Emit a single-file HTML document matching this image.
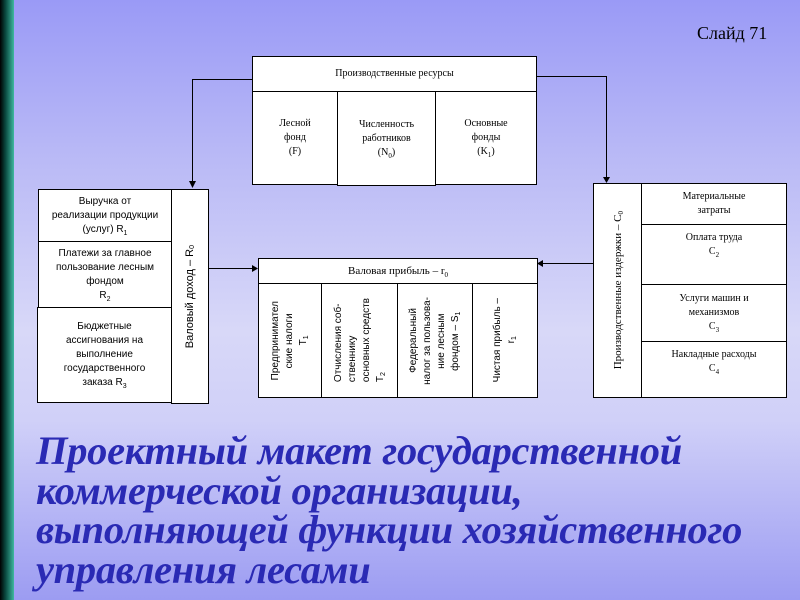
<!DOCTYPE html>
<html><head><meta charset="utf-8"><style>
body{margin:0;width:800px;height:600px;overflow:hidden;position:relative;
background:linear-gradient(180deg,#9a9af6 0%,#b8b8f6 25%,#d8d8f8 55%,#d0d0f8 70%,#9c9cf2 100%);
font-family:"Liberation Sans",sans-serif;}
.stripe{position:absolute;left:0;top:0;width:14px;height:600px;background:linear-gradient(90deg,#000 0%,#0a4a40 40%,#3fb8a0 100%);}
.b{position:absolute;background:#fff;border:1px solid #000;box-sizing:border-box;display:flex;align-items:center;justify-content:center;text-align:center;font-size:10px;line-height:14px;color:#000;}
.s{font-family:"Liberation Serif",serif;}
.v{writing-mode:vertical-rl;transform:rotate(180deg);}
sub{font-size:7px;line-height:0}
.t{position:absolute;left:36px;top:431px;font-family:"Liberation Serif",serif;font-style:italic;font-weight:bold;color:#2a2ab4;font-size:40.5px;line-height:39.5px;letter-spacing:-0.3px;white-space:nowrap}
</style></head><body>
<div class="stripe"></div>
<div style="position:absolute;left:697px;top:23px;font-family:'Liberation Serif',serif;font-size:18px">Слайд 71</div>

<div class="b s" style="left:252px;top:56px;width:285px;height:36px"><span>Производственные ресурсы</span></div>
<div class="b s" style="left:252px;top:91px;width:86px;height:94px"><span>Лесной<br>фонд<br>(F)</span></div>
<div class="b s" style="left:337px;top:91px;width:99px;height:95px"><span>Численность<br>работников<br>(N<sub>0</sub>)</span></div>
<div class="b s" style="left:435px;top:91px;width:102px;height:94px"><span>Основные<br>фонды<br>(K<sub>1</sub>)</span></div>

<div class="b" style="left:38px;top:189px;width:134px;height:53px"><span>Выручка от<br>реализации продукции<br>(услуг) R<sub>1</sub></span></div>
<div class="b" style="left:38px;top:241px;width:134px;height:67px"><span>Платежи за главное<br>пользование лесным<br>фондом<br>R<sub>2</sub></span></div>
<div class="b" style="left:37px;top:307px;width:135px;height:96px"><span>Бюджетные<br>ассигнования на<br>выполнение<br>государственного<br>заказа R<sub>3</sub></span></div>
<div class="b" style="left:171px;top:189px;width:38px;height:215px"><span class="v" style="font-size:11px">Валовый доход – R<sub>0</sub></span></div>

<div class="b s" style="left:258px;top:258px;width:280px;height:26px;font-size:11px"><span>Валовая прибыль – r<sub>0</sub></span></div>
<div class="b" style="left:258px;top:283px;width:64px;height:115px"><span class="v">Предпринимател<br>ские налоги<br>T<sub>1</sub></span></div>
<div class="b" style="left:321px;top:283px;width:77px;height:115px"><span class="v" style="text-align:left">Отчисления соб-<br>ственнику<br>основных средств<br><span style="padding-left:80px">T<sub>2</sub></span></span></div>
<div class="b" style="left:397px;top:283px;width:76px;height:115px"><span class="v">Федеральный<br>налог за пользова-<br>ние лесным<br>фондом – S<sub>1</sub></span></div>
<div class="b" style="left:472px;top:283px;width:66px;height:115px"><span class="v">Чистая прибыль –<br>r<sub>1</sub></span></div>

<div class="b s" style="left:593px;top:183px;width:49px;height:215px"><span class="v" style="font-size:11px">Производственные издержки – C<sub>0</sub></span></div>
<div class="b s" style="left:641px;top:183px;width:146px;height:42px"><span>Материальные<br>затраты</span></div>
<div class="b s" style="left:641px;top:224px;width:146px;height:61px;align-items:flex-start;padding-top:6px"><span>Оплата труда<br>C<sub>2</sub></span></div>
<div class="b s" style="left:641px;top:284px;width:146px;height:58px"><span>Услуги машин и<br>механизмов<br>C<sub>3</sub></span></div>
<div class="b s" style="left:641px;top:341px;width:146px;height:57px;align-items:flex-start;padding-top:6px"><span>Накладные расходы<br>C<sub>4</sub></span></div>

<svg style="position:absolute;left:0;top:0" width="800" height="600">
<g stroke="#000" fill="none" stroke-width="1">
<polyline points="252,79.5 192.5,79.5 192.5,182"/>
<polyline points="537,76.5 606.5,76.5 606.5,178"/>
<line x1="209" y1="268.5" x2="253" y2="268.5"/>
<line x1="593" y1="263.5" x2="542" y2="263.5"/>
</g>
<g fill="#000">
<polygon points="189,181 196,181 192.5,188"/>
<polygon points="603,177 610,177 606.5,183"/>
<polygon points="252,265 258,268.5 252,272"/>
<polygon points="543,260 537,263.5 543,267"/>
</g>
</svg>

<div class="t">Проектный макет государственной<br>коммерческой организации,<br>выполняющей функции хозяйственного<br>управления лесами</div>
</body></html>
